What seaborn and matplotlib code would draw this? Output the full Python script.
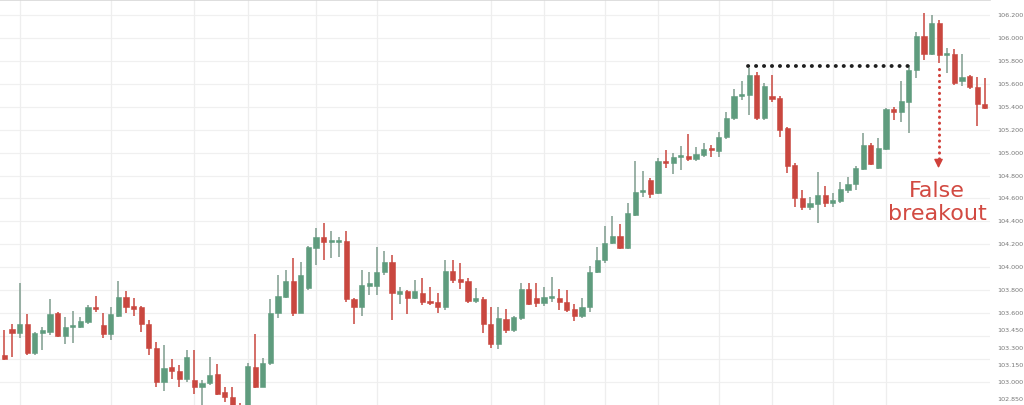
import pandas as pd
import matplotlib.pyplot as plt
import seaborn as sns
import numpy as np

# candle data
opens = [103.24,103.46,103.43,103.51,103.25,103.43,103.44,103.60,103.40,103.48,
         103.48,103.52,103.65,103.50,103.42,103.58,103.74,103.66,103.65,103.51,
         103.30,103.00,103.13,103.10,103.03,103.02,102.96,102.99,103.07,102.91,
         102.87,102.77,102.74,103.13,102.96,103.17,103.60,103.74,103.88,103.60,
         103.82,104.17,104.26,104.22,104.22,104.23,103.72,103.65,103.84,103.84,
         103.96,104.05,103.77,103.79,103.73,103.78,103.71,103.70,103.65,103.97,
         103.90,103.88,103.71,103.72,103.51,103.33,103.55,103.45,103.56,103.81,
         103.73,103.69,103.73,103.73,103.70,103.64,103.58,103.65,103.96,104.06,
         104.21,104.27,104.17,104.46,104.66,104.76,104.65,104.93,104.91,104.96,
         104.97,104.94,104.98,105.03,105.01,105.14,105.30,105.49,105.50,105.68,
         105.30,105.49,105.48,105.21,104.89,104.60,104.53,104.55,104.63,104.56,
         104.58,104.67,104.73,104.86,105.07,104.87,105.03,105.38,105.35,105.44,
         105.72,106.02,105.86,106.13,105.85,105.86,105.62,105.67,105.57,105.42]
highs = [103.45,103.51,103.86,103.59,103.44,103.48,103.72,103.61,103.57,103.62,
         103.57,103.67,103.75,103.60,103.65,103.88,103.79,103.73,103.66,103.54,
         103.35,103.32,103.20,103.15,103.28,103.28,103.02,103.22,103.16,102.96,
         102.96,102.82,103.17,103.42,103.21,103.72,103.93,103.98,104.08,104.05,
         104.19,104.34,104.39,104.32,104.26,104.32,103.73,103.98,103.96,104.18,
         104.14,104.11,103.83,103.80,103.89,103.91,103.83,103.78,104.06,104.06,
         104.04,103.91,103.82,103.74,103.65,103.65,103.64,103.58,103.86,103.86,
         103.86,103.83,103.92,103.81,103.80,103.68,103.73,104.01,104.18,104.36,
         104.45,104.38,104.56,104.93,104.84,104.78,104.95,105.02,105.00,105.06,
         105.16,105.05,105.08,105.07,105.18,105.35,105.55,105.62,105.74,105.70,
         105.61,105.68,105.49,105.22,104.91,104.67,104.61,104.83,104.71,104.65,
         104.74,104.79,104.88,105.17,105.08,105.13,105.39,105.40,105.62,105.76,
         106.05,106.22,106.20,106.16,105.91,105.90,105.86,105.68,105.66,105.65]
lows = [103.19,103.22,103.38,103.24,103.24,103.28,103.41,103.39,103.33,103.34,
        103.47,103.51,103.61,103.38,103.37,103.57,103.60,103.58,103.44,103.24,
        102.96,102.92,103.03,102.96,103.00,102.90,102.80,102.97,102.89,102.83,
        102.74,102.70,102.72,102.95,102.96,103.15,103.56,103.73,103.58,103.60,
        103.80,104.02,104.06,104.08,104.09,103.70,103.51,103.58,103.76,103.76,
        103.93,103.54,103.68,103.59,103.72,103.67,103.67,103.60,103.63,103.86,
        103.81,103.69,103.69,103.43,103.30,103.29,103.43,103.44,103.54,103.67,
        103.65,103.66,103.70,103.63,103.61,103.53,103.56,103.61,103.95,104.04,
        104.20,104.16,104.16,104.45,104.61,104.60,104.64,104.87,104.81,104.85,
        104.93,104.93,104.96,104.96,104.96,105.12,105.28,105.46,105.33,105.28,
        105.28,105.44,105.14,104.82,104.53,104.50,104.50,104.39,104.53,104.53,
        104.56,104.65,104.67,104.85,104.89,104.86,105.02,105.28,105.27,105.17,
        105.65,105.81,105.85,105.78,105.69,105.59,105.58,105.55,105.23,105.38]
closes = [103.20,103.43,103.51,103.25,103.43,103.45,103.59,103.40,103.48,103.49,
          103.53,103.65,103.64,103.42,103.59,103.74,103.65,103.64,103.51,103.30,
          103.00,103.12,103.10,103.03,103.22,102.96,102.99,103.06,102.90,102.87,
          102.77,102.74,103.14,102.96,103.17,103.60,103.75,103.88,103.60,103.93,
          104.18,104.26,104.22,104.23,104.24,103.72,103.65,103.85,103.86,103.96,
          104.05,103.78,103.79,103.73,103.79,103.70,103.69,103.65,103.97,103.89,
          103.87,103.71,103.73,103.51,103.33,103.56,103.45,103.57,103.81,103.68,
          103.69,103.74,103.74,103.70,103.63,103.58,103.65,103.96,104.06,104.21,
          104.27,104.17,104.47,104.66,104.67,104.64,104.93,104.91,104.96,104.98,
          104.94,104.99,105.03,105.02,105.14,105.30,105.49,105.50,105.68,105.30,
          105.58,105.47,105.20,104.88,104.60,104.53,104.56,104.63,104.56,104.59,
          104.68,104.73,104.87,105.07,104.90,105.04,105.38,105.35,105.45,105.72,
          106.02,105.86,106.13,105.85,105.87,105.61,105.66,105.57,105.42,105.39]

price_ticks = [106.2, 106.0, 105.8, 105.6, 105.4, 105.2, 105.0, 104.8, 104.6, 104.4,
               104.2, 104.0, 103.8, 103.6, 103.45, 103.3, 103.15, 103.0, 102.85]
hgrid_levels = [106.2, 106.0, 105.8, 105.6, 105.4, 105.2, 105.0, 104.8, 104.6, 104.4,
                104.2, 104.0, 103.8, 103.6, 103.4, 103.2, 103.0]
vgrid_idx = [2, 14, 25, 32, 41, 49, 64, 71, 79, 86, 94, 101, 109, 116]

resistance = 105.755
label = "False\nbreakout"

#Building the frame

df = pd.DataFrame({"open": opens, "high": highs, "low": lows, "close": closes})
df["i"] = np.arange(len(df))
df["up"] = df["close"] >= df["open"]
df["bottom"] = df[["open", "close"]].min(axis=1)
df["height"] = (df["close"] - df["open"]).abs().clip(lower=0.018)

GREEN = "#5f9c7e"
RED = "#c9473f"
df["color"] = np.where(df["up"], GREEN, RED)
df["wick"] = np.where(df["up"], "#7f9c8e", RED)

###

#Plotting

sns.set_style("white")
plt.rcParams["font.family"] = ["DejaVu Sans"]

fig = plt.figure(figsize=(10.24, 4.05), dpi=100)
ax = fig.add_axes([0, 0, 0.967, 1])

for lvl in hgrid_levels:
    ax.axhline(lvl, color="#f0f0f0", linewidth=0.9, zorder=0)
for xi in vgrid_idx:
    ax.axvline(xi, color="#eeeeee", linewidth=0.9, zorder=0)

ax.vlines(df["i"], df["low"], df["high"], colors=df["wick"], linewidth=1.1, zorder=2)
ax.bar(df["i"], df["height"], bottom=df["bottom"], width=0.68,
       color=df["color"], edgecolor=df["color"], linewidth=0.4, zorder=3)

# resistance dotted line
ax.plot([97.9, 118.9], [resistance, resistance], color="#1f1f1f", lw=2.8,
        linestyle=(0, (0.05, 2.0)), dash_capstyle="round", zorder=4)

# dotted arrow down
ax.plot([122.9, 122.9], [105.73, 104.93], color="#d0403a", lw=2.2,
        linestyle=(0, (0.05, 1.9)), dash_capstyle="round", zorder=4)
ax.annotate("", xy=(122.9, 104.84), xytext=(122.9, 104.95),
            arrowprops=dict(arrowstyle="-|>", color="#d0403a", lw=1, mutation_scale=13))
ax.text(122.7, 104.565, label, ha="center", va="center", color="#d24a42",
        fontsize=16, linespacing=1.15)

ax.set_xlim(-0.57, 129.7)
ax.set_ylim(102.80, 106.33)

ax.yaxis.tick_right()
ax.set_yticks(price_ticks)
ax.set_yticklabels(["%.3f" % v for v in price_ticks])
ax.tick_params(axis="y", length=0, labelsize=4.6, labelcolor="#777777", pad=5)
ax.set_xticks([])
ax.grid(False)

for s in ["left", "right", "bottom"]:
    ax.spines[s].set_visible(False)
ax.spines["top"].set_color("#d8d8d8")
ax.spines["top"].set_linewidth(1.2)

fig.savefig("out.png", dpi=100)
